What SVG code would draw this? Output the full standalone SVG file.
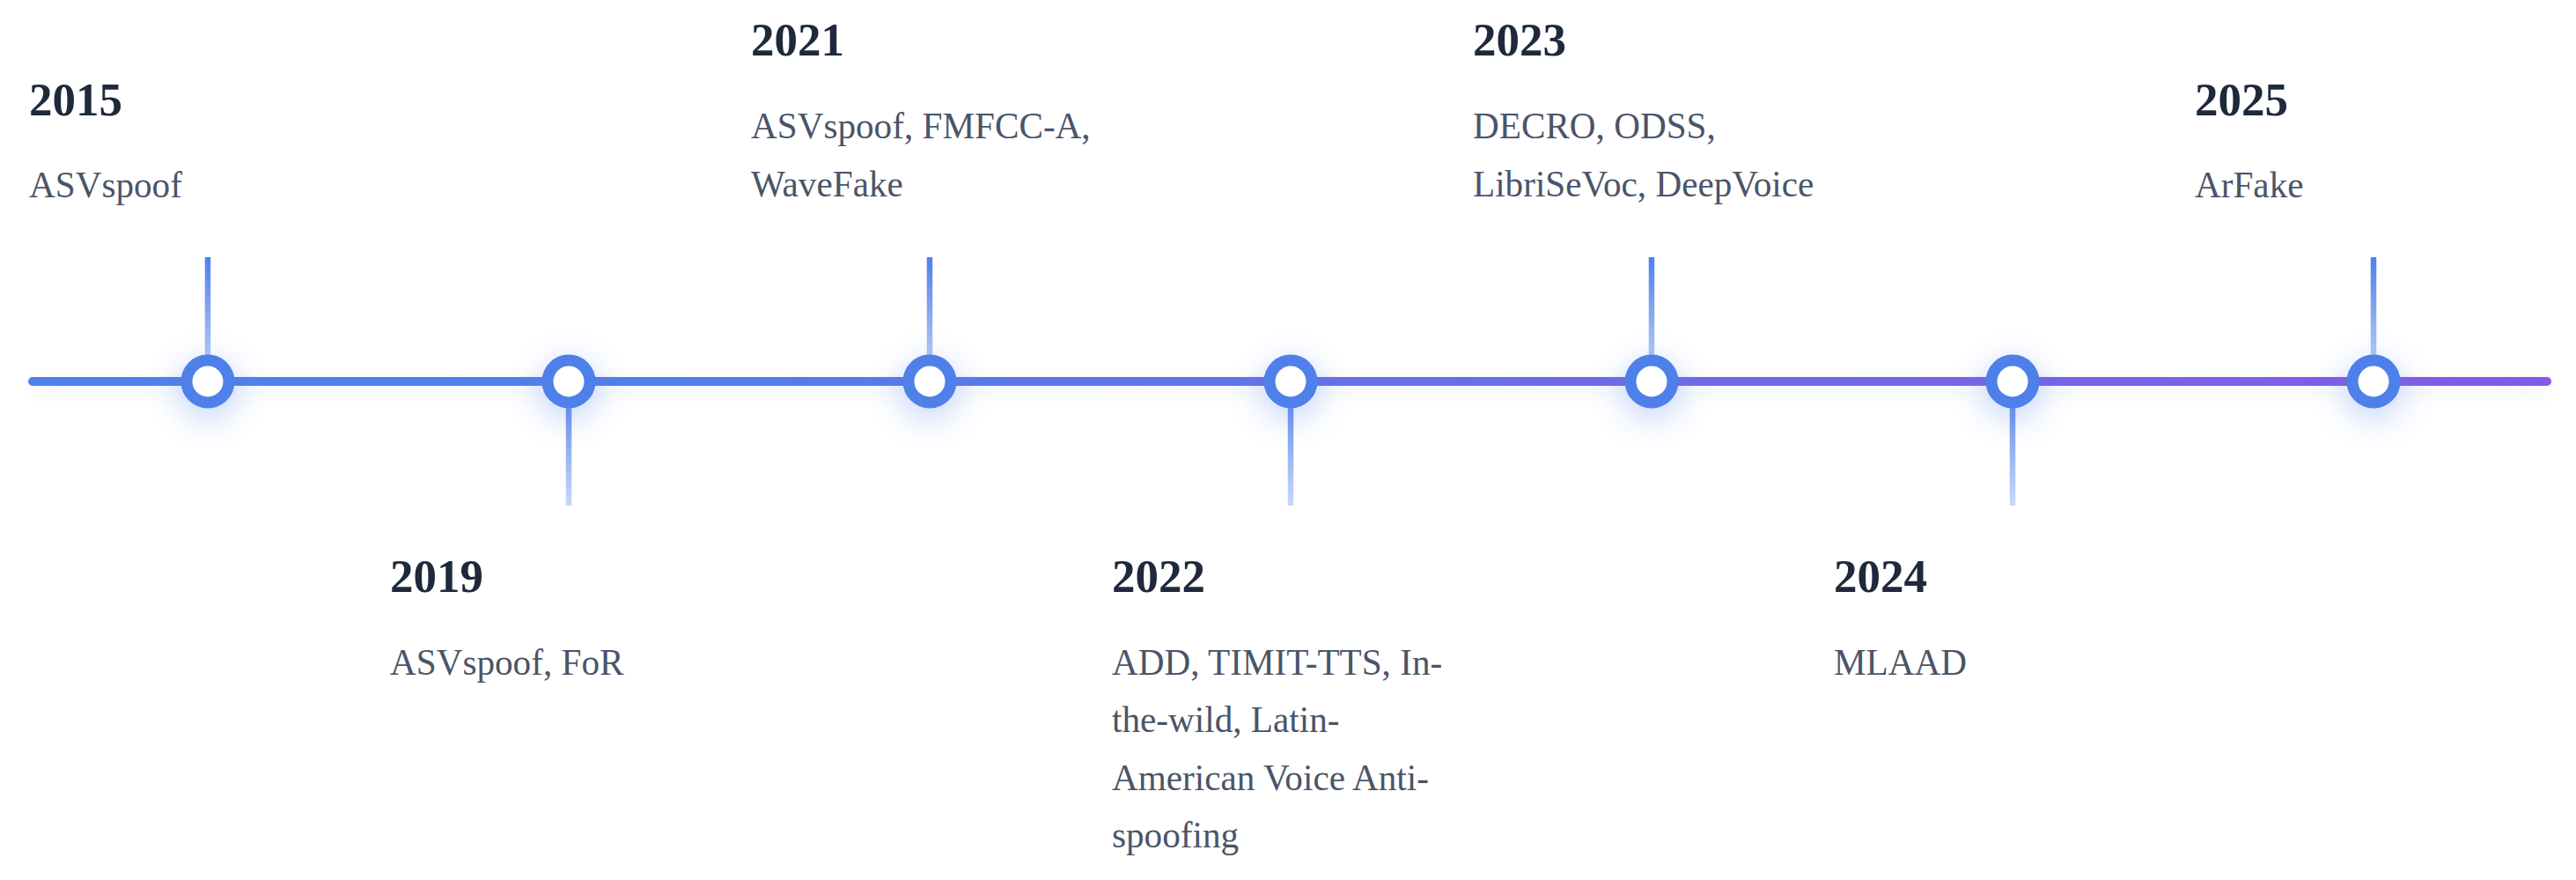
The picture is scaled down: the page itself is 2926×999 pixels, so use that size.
<svg xmlns="http://www.w3.org/2000/svg" width="2926" height="999" viewBox="0 0 2926 999">
  <defs>
    <linearGradient id="lineGrad" x1="0" y1="0" x2="1" y2="0">
      <stop offset="0" stop-color="#4d82eb"/>
      <stop offset="0.3" stop-color="#537deb"/>
      <stop offset="0.55" stop-color="#6a6ee8"/>
      <stop offset="1" stop-color="#845ae6"/>
    </linearGradient>
    <linearGradient id="tickGrad" x1="0" y1="0" x2="0" y2="1">
      <stop offset="0" stop-color="#4f80ea"/>
      <stop offset="1" stop-color="#4f80ea" stop-opacity="0.3"/>
    </linearGradient>
    <filter id="blur" x="-150%" y="-150%" width="400%" height="400%">
      <feGaussianBlur stdDeviation="18"/>
    </filter>
    <filter id="lineBlur" x="-5%" y="-300%" width="110%" height="700%">
      <feGaussianBlur stdDeviation="10"/>
    </filter>
  </defs>
  <style>
    .year { font-family: "Liberation Serif", "Times New Roman", serif; font-weight: 700; font-size: 53px; fill: #1e293b; }
    .body { font-family: "Liberation Serif", "Times New Roman", serif; font-size: 41.2px; fill: #4a5568; }
    .dot { fill: #ffffff; stroke: #4f80ea; stroke-width: 13; }
    .glow { fill: #4f80ea; opacity: 0.3; }
    .tick { fill: url(#tickGrad); }
  </style>
  <rect width="2926" height="999" fill="#ffffff"/>

  <g id="connectors">
    <rect x="40" y="436" width="2850" height="10" rx="5" fill="#4f80ea" opacity="0.12" filter="url(#lineBlur)"/>
    <rect id="timeline" x="32" y="428" width="2866" height="10" rx="5" fill="url(#lineGrad)"/>
    <rect class="tick" x="232.75" y="292" width="6.5" height="141"/>
    <rect class="tick" x="642.75" y="433" width="6.5" height="141"/>
    <rect class="tick" x="1052.75" y="292" width="6.5" height="141"/>
    <rect class="tick" x="1462.75" y="433" width="6.5" height="141"/>
    <rect class="tick" x="1872.75" y="292" width="6.5" height="141"/>
    <rect class="tick" x="2282.75" y="433" width="6.5" height="141"/>
    <rect class="tick" x="2692.75" y="292" width="6.5" height="141"/>
  </g>

  <g id="node-2015">
    <circle class="glow" cx="236" cy="443" r="34" filter="url(#blur)"/>
    <circle class="dot" cx="236" cy="433" r="24"/>
    <text class="year" x="33" y="131">2015</text>
    <text class="body" x="33" y="224">ASVspoof</text>
  </g>

  <g id="node-2019">
    <circle class="glow" cx="646" cy="443" r="34" filter="url(#blur)"/>
    <circle class="dot" cx="646" cy="433" r="24"/>
    <text class="year" x="443" y="672">2019</text>
    <text class="body" x="443" y="766">ASVspoof, FoR</text>
  </g>

  <g id="node-2021">
    <circle class="glow" cx="1056" cy="443" r="34" filter="url(#blur)"/>
    <circle class="dot" cx="1056" cy="433" r="24"/>
    <text class="year" x="853" y="63">2021</text>
    <text class="body" x="853" y="157">ASVspoof, FMFCC-A,</text>
    <text class="body" x="853" y="222.5">WaveFake</text>
  </g>

  <g id="node-2022">
    <circle class="glow" cx="1466" cy="443" r="34" filter="url(#blur)"/>
    <circle class="dot" cx="1466" cy="433" r="24"/>
    <text class="year" x="1263" y="672">2022</text>
    <text class="body" x="1263" y="766">ADD, TIMIT-TTS, In-</text>
    <text class="body" x="1263" y="831.3">the-wild, Latin-</text>
    <text class="body" x="1263" y="896.6">American Voice Anti-</text>
    <text class="body" x="1263" y="962">spoofing</text>
  </g>

  <g id="node-2023">
    <circle class="glow" cx="1876" cy="443" r="34" filter="url(#blur)"/>
    <circle class="dot" cx="1876" cy="433" r="24"/>
    <text class="year" x="1673" y="63">2023</text>
    <text class="body" x="1673" y="157">DECRO, ODSS,</text>
    <text class="body" x="1673" y="222.5">LibriSeVoc, DeepVoice</text>
  </g>

  <g id="node-2024">
    <circle class="glow" cx="2286" cy="443" r="34" filter="url(#blur)"/>
    <circle class="dot" cx="2286" cy="433" r="24"/>
    <text class="year" x="2083" y="672">2024</text>
    <text class="body" x="2083" y="766">MLAAD</text>
  </g>

  <g id="node-2025">
    <circle class="glow" cx="2696" cy="443" r="34" filter="url(#blur)"/>
    <circle class="dot" cx="2696" cy="433" r="24"/>
    <text class="year" x="2493" y="131">2025</text>
    <text class="body" x="2493" y="224">ArFake</text>
  </g>
</svg>
